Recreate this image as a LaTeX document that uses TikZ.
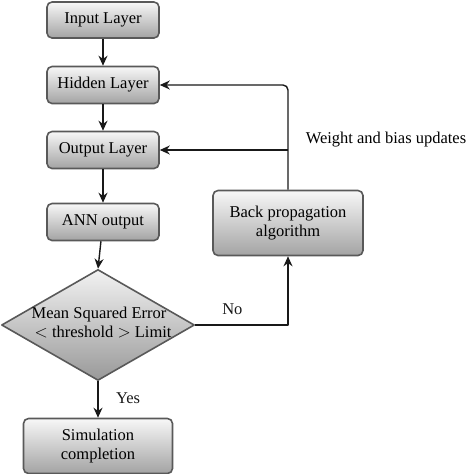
\documentclass[tikz,border=0pt]{standalone}
\usepackage{fontspec}
\setmainfont{Liberation Serif}
\usetikzlibrary{shapes.geometric,arrows.meta}
\begin{document}
\begin{tikzpicture}[x=1pt,y=-1pt,font=\rmfamily\fontsize{16.5}{19}\selectfont, line join=round, >={Stealth[length=10pt,width=9pt]},
	box/.style={draw=black!65,line width=1.6pt,rounded corners=5pt,top color=black!3,bottom color=black!36,align=center,inner sep=0pt},
	dec/.style={diamond,draw=black!65,line width=1.6pt,top color=black!5,bottom color=black!40,inner sep=0pt,minimum width=193pt,minimum height=111pt},
	arr/.style={->,line width=1.4pt,black!90}]
	\useasboundingbox (0,0) rectangle (474,474);
	\node[box,minimum width=112pt,minimum height=36pt] (inp) at (103,20) {Input Layer};
	\node[box,minimum width=112pt,minimum height=37pt] (hid) at (103,85) {Hidden Layer};
	\node[box,minimum width=112pt,minimum height=37pt] (outl) at (103,150) {Output Layer};
	\node[box,minimum width=112pt,minimum height=37pt] (ann) at (103,222) {ANN output};
	\node[dec] (mse) at (98,325) {};
	\node[align=center,inner sep=0pt] (mselbl) at (99,323) {Mean Squared Error\\ \ \ $<$ threshold $>$ Limit};
	\node[box,minimum width=149pt,minimum height=55pt] (sim) at (98,446) {Simulation\\completion};
	\node[box,minimum width=150pt,minimum height=65pt] (bp) at (288,223) {Back propagation\\algorithm};
	\node (wlbl) at (386,140) {Weight and bias updates};
	% main flow
	\draw[arr] (inp)--(hid);
	\draw[arr] (hid)--(outl);
	\draw[arr] (outl)--(ann);
	\draw[arr] (ann)--(mse.north);
	\draw[arr] (mse.south)--(sim) node[pos=0.45,right=14pt]{Yes};
	% feedback
	\draw[arr] (mse.east)--(mse.east-|bp.south) node[pos=0.4,above=6pt]{No}--(bp.south);
	\coordinate (top) at (bp.north|-hid.east);
	\coordinate (mid) at (bp.north|-outl.east);
	\draw[arr,rounded corners=5pt] (bp.north)--(top)--(hid.east);
	\draw[arr] (mid)--(outl.east);
\end{tikzpicture}
\end{document}
